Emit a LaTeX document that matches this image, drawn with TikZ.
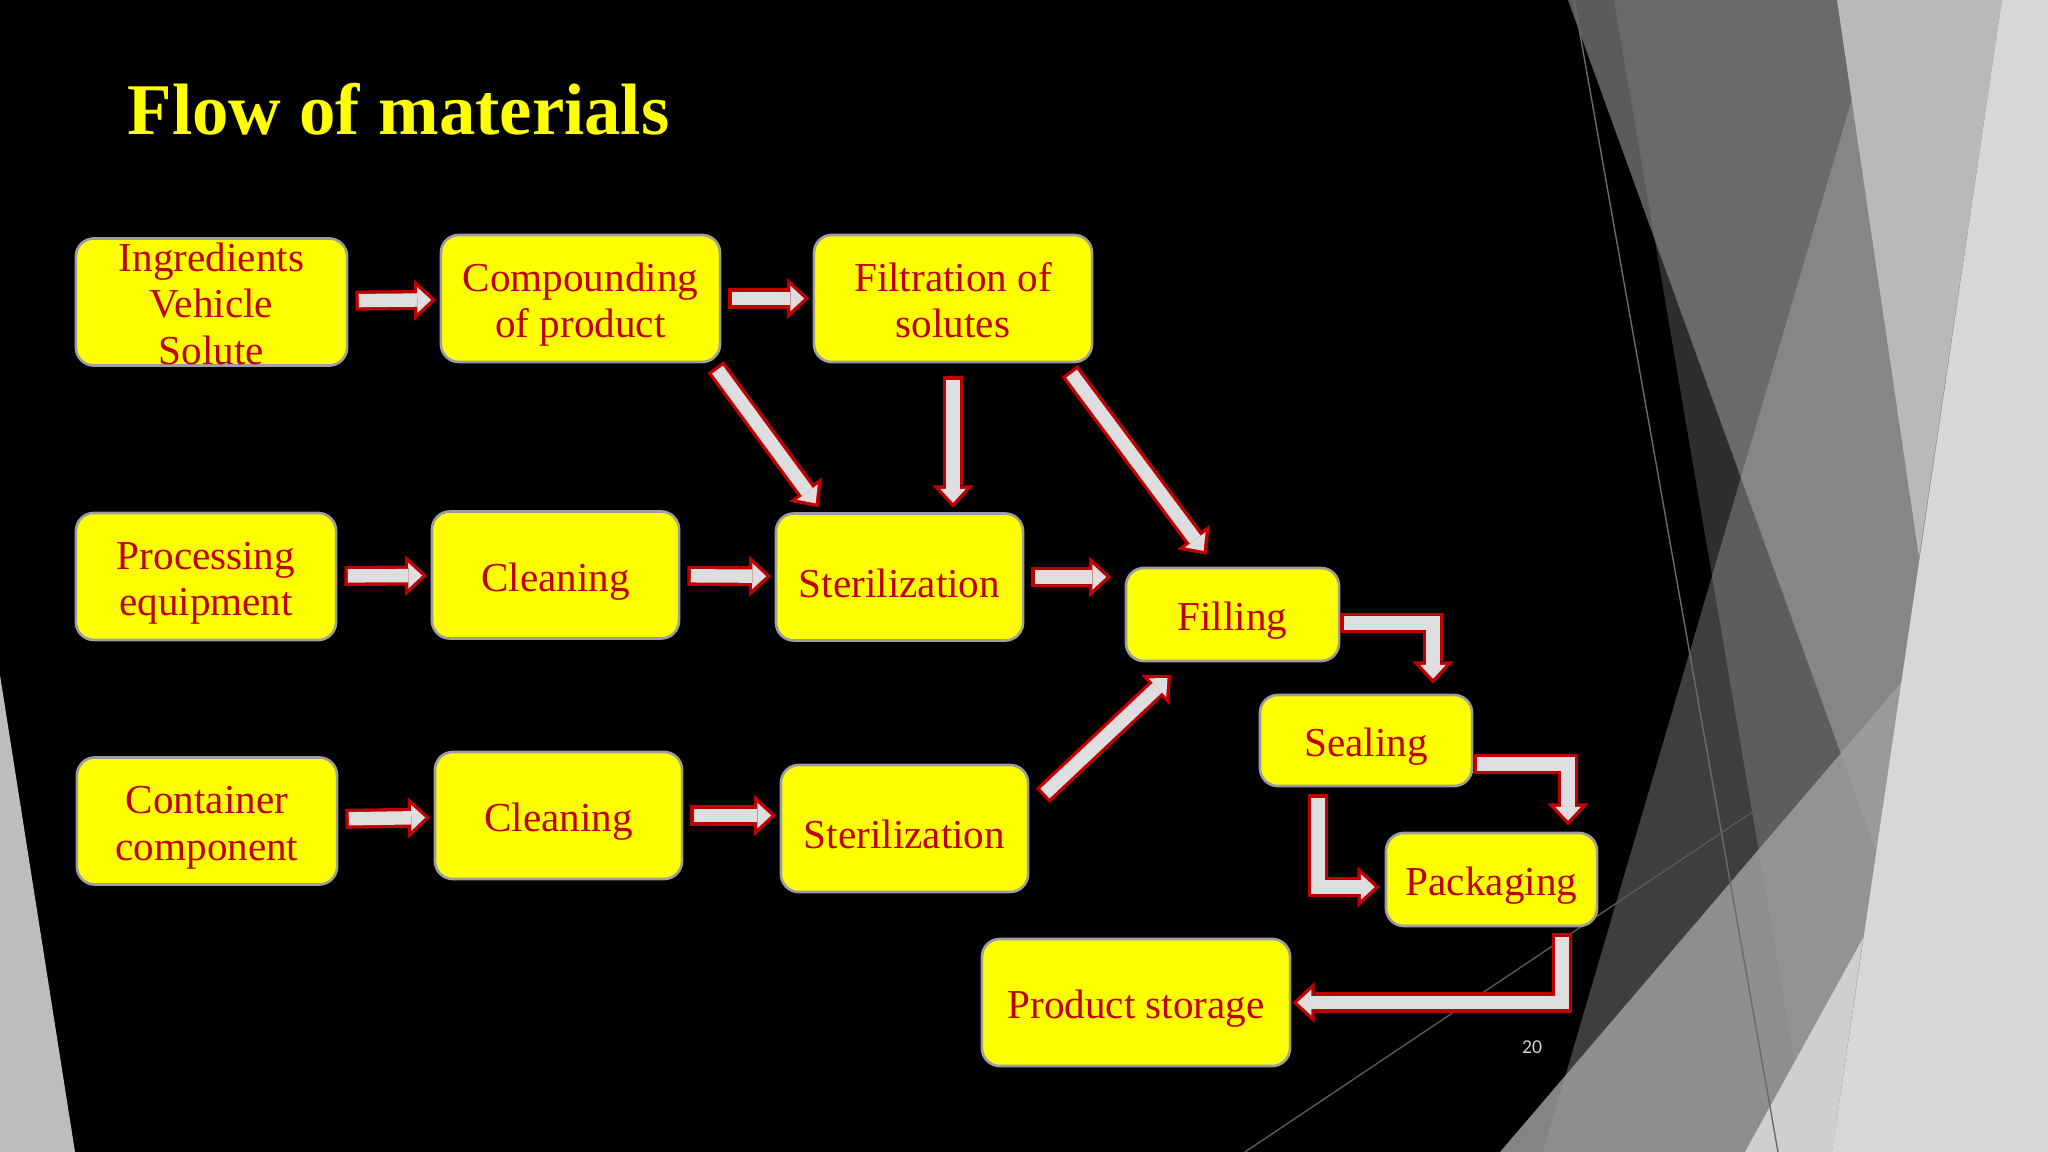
\documentclass[tikz,border=0pt]{standalone}
\usepackage{fontspec}
\setmainfont{Liberation Serif}
\newfontfamily\pagenumfont{Carlito}
\usetikzlibrary{arrows.meta,calc}
\definecolor{SlideYellow}{RGB}{255,255,0}
\definecolor{BoxText}{RGB}{192,0,0}
\definecolor{BoxLine}{RGB}{158,158,158}
\definecolor{ArrowRed}{RGB}{192,0,0}
\definecolor{ArrowFill}{RGB}{222,222,224}
\definecolor{FacetLight}{RGB}{185,185,187}
\definecolor{FacetPale}{RGB}{215,215,217}
\definecolor{FacetMid}{RGB}{207,207,209}
\definecolor{SideGray}{RGB}{189,189,189}
\definecolor{PageNum}{RGB}{210,210,210}

\begin{document}
\begin{tikzpicture}[x=0.01cm, y=-0.01cm,
    stage/.style={draw=BoxLine, line width=0.75pt, rounded corners=0.18cm, fill=SlideYellow, text=BoxText, align=center, inner sep=0pt, minimum width=2.47cm, minimum height=1.27cm, font=\fontsize{11.7}{13.2}\selectfont, execute at begin node={\rule{0pt}{11.7pt}}},
    twolines/.style={text height=24.9pt, text depth=2.5pt},
    arrout/.style={draw=ArrowRed, line width=5.7pt, line join=miter, shorten <=2pt, shorten >=1pt, -{Triangle[length=6.3pt, width=11.7pt, line width=0pt]}},
    arrin/.style={draw=ArrowFill, line width=3.8pt, line join=miter, shorten <=2.95pt, shorten >=2.4pt, -{Triangle[length=3.95pt, width=7.3pt, line width=0pt]}},
    title/.style={text=SlideYellow, font=\fontsize{20.7}{24}\selectfont\bfseries, inner sep=0pt}
  ]
  \useasboundingbox (0,0) rectangle (2048,1152);
  % slide background and facets
  \fill[black] (0,0) rectangle (2048,1152);
  \fill[SideGray] (0,675) -- (75,1152) -- (0,1152) -- cycle;
  \fill[white!18!black] (1614,0) -- (1810,1152) -- (2048,1152) -- (2048,0) -- cycle;
  \fill[white!52!black, fill opacity=0.69] (1568,0) -- (1985,1152) -- (2048,1152) -- (2048,0) -- cycle;
  \fill[white!75!black, fill opacity=0.33] (1881,0) -- (1543,1152) -- (2048,1152) -- (2048,0) -- cycle;
  \fill[white!62!black, fill opacity=0.84] (1500,1152) -- (2048,511) -- (2048,1152) -- cycle;
  \fill[FacetLight] (1837,0) -- (2002,0) -- (1919,557) -- cycle;
  \fill[FacetPale] (2002,0) -- (2048,0) -- (2048,1152) -- (1832,1152) -- cycle;
  \fill[FacetMid] (1745,1152) -- (1863,938) -- (1832,1152) -- cycle;
  \draw[white!42!black, line width=0.4pt] (1574,0) -- (1778,1152);
  \draw[white!35!black, line width=0.4pt] (1245,1152) -- (1839,754);

  \node[title, anchor=base west] (title) at (127,134.5) {Flow of materials};

  \node[stage, minimum width=2.71cm, text height=35.5pt, text depth=0pt] (ingr) at (211.5,302) {Ingredients\\Vehicle\\Solute};
  \node[stage, twolines, minimum width=2.79cm] (comp) at (580.5,298.5) {Compounding\\of product};
  \node[stage, twolines, minimum width=2.78cm] (filt) at (953,298.5) {Filtration of\\solutes};
  \node[stage, twolines, minimum width=2.60cm] (proc) at (206,576.5) {Processing\\equipment};
  \node[stage] (clean1) at (555.5,575) {Cleaning};
  \node[stage] (ster1) at (899.5,577) {Sterilization};
  \node[stage, minimum width=2.13cm, minimum height=0.93cm] (filling) at (1232.5,614.5) {Filling};
  \node[stage, twolines, minimum width=2.60cm] (cont) at (207,821) {Container\\component};
  \node[stage] (clean2) at (558.5,815.5) {Cleaning};
  \node[stage] (ster2) at (904.5,828.5) {Sterilization};
  \node[stage, minimum width=2.12cm, minimum height=0.91cm] (seal) at (1366,740.5) {Sealing};
  \node[stage, minimum width=2.11cm, minimum height=0.93cm] (pack) at (1491.5,879.5) {Packaging};
  \node[stage, minimum width=3.08cm] (store) at (1136,1002.5) {Product storage};

  \node[text=PageNum, font=\pagenumfont\fontsize{5.6}{6}\selectfont] (pagenum) at (1532,1047) {20};

  % block arrows: red outline first, grey body on top
  \foreach \layer in {arrout,arrin}{
    \draw[\layer] (ingr) -- (comp);
    \draw[\layer] (comp) -- (filt);
    \draw[\layer] (proc) -- (clean1);
    \draw[\layer] (clean1) -- (ster1);
    \draw[\layer] (ster1.east) -- ($(ster1.east -| filling.west)+(-10,0)$);
    \draw[\layer] (cont) -- (clean2);
    \draw[\layer] (clean2.east) -- (clean2.east -| ster2.west);
    \draw[\layer] ($(comp.south east)+(-10,-2)$) -- ($(ster1.north west)+(46,-2)$);
    \draw[\layer] ($(filt.south)+(0,6)$) -- ($(filt.south |- ster1.north)+(0,-1)$);
    \draw[\layer] ($(filt.south east)+(-28,2)$) -- ($(filling.north west)+(84,-9)$);
    \draw[\layer] ($(ster2.north east)+(8,37)$) -- ($(filling.south west)+(49,10)$);
    \draw[\layer] ($(filling.east)+(-7,8.5)$) -| ($(seal.north)+(67,-6.5)$);
    \draw[\layer] ($(seal.east)+(-7,23.5)$) -| ($(pack.north)+(76.5,-2.5)$);
    \draw[\layer] ($(seal.south)+(-48,0)$) |- ($(pack.west)+(-1.5,7.5)$);
    \draw[\layer] ($(pack.south)+(70.5,-1)$) |- ($(store.east)+(-2.5,0)$);
  }
\end{tikzpicture}
\end{document}
